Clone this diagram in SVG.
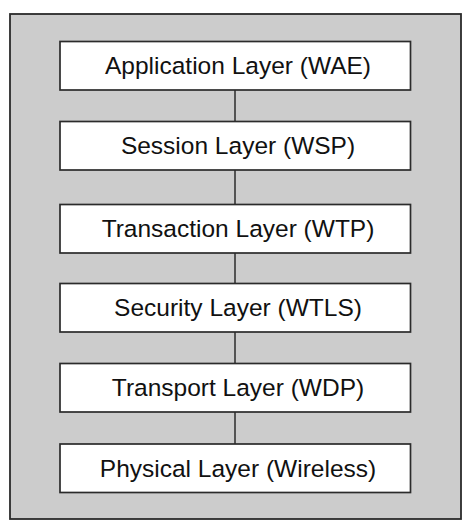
<svg xmlns="http://www.w3.org/2000/svg" width="474" height="528" viewBox="0 0 474 528">
<style>
.bg{fill:#fff}
.frame{fill:#cccccc;stroke:#2b2b2b;stroke-width:1.8}
.box{fill:#ffffff;stroke:#2b2b2b;stroke-width:1.7}
.lbl{font-family:"Liberation Sans",Arial,sans-serif;font-size:24.5px;fill:#111;text-anchor:middle}
.conn{stroke:#2b2b2b;stroke-width:1.5;fill:none}
</style>
<rect class="bg" x="0" y="0" width="474" height="528"/>
<rect id="frame" class="frame" x="10" y="14" width="451" height="505"/>
<g id="connectors">
<line class="conn" x1="235" y1="90" x2="235" y2="121.5"/>
<line class="conn" x1="235" y1="170" x2="235" y2="204.5"/>
<line class="conn" x1="235" y1="253" x2="235" y2="283.5"/>
<line class="conn" x1="235" y1="332" x2="235" y2="363.5"/>
<line class="conn" x1="235" y1="412" x2="235" y2="444"/>
</g>
<g id="app">
<rect class="box" x="60" y="41.5" width="350.5" height="48.5"/>
<text class="lbl" x="238" y="74">Application Layer (WAE)</text>
</g>
<g id="session">
<rect class="box" x="60" y="121.5" width="350.5" height="48.5"/>
<text class="lbl" x="238" y="154">Session Layer (WSP)</text>
</g>
<g id="transaction">
<rect class="box" x="60" y="204.5" width="350.5" height="48.5"/>
<text class="lbl" x="238" y="237">Transaction Layer (WTP)</text>
</g>
<g id="security">
<rect class="box" x="60" y="283.5" width="350.5" height="48.5"/>
<text class="lbl" x="238" y="316">Security Layer (WTLS)</text>
</g>
<g id="transport">
<rect class="box" x="60" y="363.5" width="350.5" height="48.5"/>
<text class="lbl" x="238" y="396">Transport Layer (WDP)</text>
</g>
<g id="physical">
<rect class="box" x="60" y="444" width="350.5" height="48.5"/>
<text class="lbl" x="238" y="476.5">Physical Layer (Wireless)</text>
</g>
</svg>
